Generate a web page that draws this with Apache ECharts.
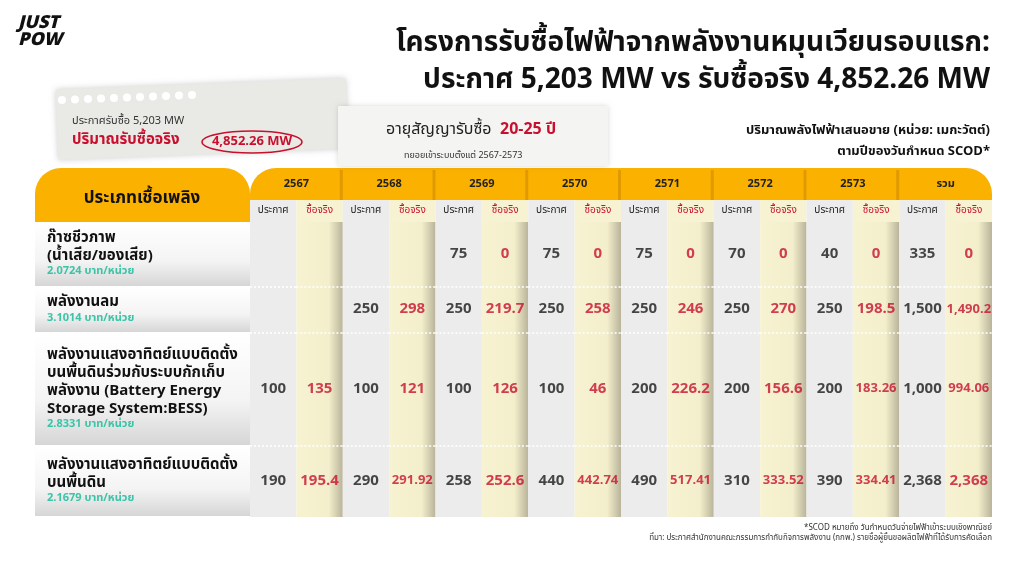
<!DOCTYPE html>
<html><head><meta charset="utf-8">
<script src="https://cdn.jsdelivr.net/npm/echarts@6/dist/echarts.min.js"></script>
<style>html,body{margin:0;background:#fff}#c{width:1024px;height:576px}</style>
</head><body><div id="c"></div>
<script>
const years = ['2567', '2568', '2569', '2570', '2571', '2572', '2573', 'รวม'];
const fuelNames = ['ก๊าซชีวภาพ\n(น้ำเสีย/ของเสีย)', 'พลังงานลม',
  'พลังงานแสงอาทิตย์แบบติดตั้ง\nบนพื้นดินร่วมกับระบบกักเก็บ\nพลังงาน (Battery Energy\nStorage System:BESS)',
  'พลังงานแสงอาทิตย์แบบติดตั้ง\nบนพื้นดิน'];
const prices = ['2.0724 บาท/หน่วย', '3.1014 บาท/หน่วย', '2.8331 บาท/หน่วย', '2.1679 บาท/หน่วย'];
const biogasAnnounced = [null, null, 75, 75, 75, 70, 40, 335];
const biogasActual = [null, null, 0, 0, 0, 0, 0, 0];
const windAnnounced = [null, 250, 250, 250, 250, 250, 250, 1500];
const windActual = [null, 298, 219.7, 258, 246, 270, 198.5, 1490.2];
const solarBessAnnounced = [100, 100, 100, 100, 200, 200, 200, 1000];
const solarBessActual = [135, 121, 126, 46, 226.2, 156.6, 183.26, 994.06];
const solarAnnounced = [190, 290, 258, 440, 490, 310, 390, 2368];
const solarActual = [195.4, 291.92, 252.6, 442.74, 517.41, 333.52, 334.41, 2368];

// layout: row edges in px below the header
const rowEdges = [0, 65, 111, 224, 295];
const F = "'Noto Sans Thai','Noto Sans','Noto Sans CJK SC',sans-serif";
const cols = [];
years.forEach(y => { cols.push(y + 'a'); cols.push(y + 'b'); });
const announced = [biogasAnnounced, windAnnounced, solarBessAnnounced, solarAnnounced];
const actual = [biogasActual, windActual, solarBessActual, solarActual];
const fmt = v => v.toLocaleString('en-US', { maximumFractionDigits: 2 });
const annPts = [], actPts = [], bg = [];
announced.forEach((row, r) => {
  const yc = (rowEdges[r] + rowEdges[r + 1]) / 2;
  row.forEach((v, i) => { if (v != null) annPts.push({ value: [cols[2 * i], yc], label: { formatter: fmt(v) } }); });
  actual[r].forEach((v, i) => {
    if (v != null) {
      const s = fmt(v);
      actPts.push({ value: [cols[2 * i + 1], yc], label: { formatter: s, fontSize: s.length > 5 ? 13 : 15 } });
    }
  });
});
cols.forEach((c, i) => bg.push([c, i]));

const chart = echarts.init(document.getElementById('c'));
const X0 = 250, X1 = 992, TOP = 222;
const colW = (X1 - X0) / 8;
const g = [];
// left header + rows
g.push({ type: 'rect', shape: { x: 35, y: 168, width: 215, height: 54, r: [26, 26, 0, 0] }, style: { fill: '#fbb100' } });
g.push({ type: 'text', x: 142, y: 200, style: { text: 'ประเภทเชื้อเพลิง', font: 'bold 17px ' + F, fill: '#111', align: 'center', verticalAlign: 'middle' } });
fuelNames.forEach((n, r) => {
  g.push({ type: 'rect', shape: { x: 35, y: TOP + rowEdges[r] + 1, width: 215, height: rowEdges[r + 1] - rowEdges[r] - 2 },
    style: { fill: new echarts.graphic.LinearGradient(0, 0, 0, 1, [{ offset: 0, color: '#fff' }, { offset: 0.6, color: '#f4f4f4' }, { offset: 1, color: '#d6d6d6' }]) } });
  const lines = n.split('\n').length;
  const h = lines * 18 + 14;
  const ty = TOP + (rowEdges[r] + rowEdges[r + 1]) / 2 - h / 2;
  g.push({ type: 'text', x: 47, y: ty, style: { text: n, font: 'bold 15px ' + F, lineHeight: 18, fill: '#111' } });
  g.push({ type: 'text', x: 47, y: ty + lines * 18 + 1, style: { text: prices[r], font: 'bold 11px ' + F, fill: '#3cc4a8' } });
});
// year header
g.push({ type: 'rect', shape: { x: X0, y: 168, width: X1 - X0, height: 32, r: [26, 26, 0, 0] }, style: { fill: '#fbb100' } });
years.forEach((y, i) => {
  const cx = X0 + colW * i;
  if (i > 0) g.push({ type: 'rect', shape: { x: cx - 3, y: 170, width: 3, height: 30 }, style: { fill: '#e09a00' } });
  g.push({ type: 'text', x: cx + colW / 2, y: 185, style: { text: y, font: 'bold 11px ' + F, fill: '#222', align: 'center', verticalAlign: 'middle' } });
  g.push({ type: 'rect', shape: { x: cx, y: 200, width: colW / 2, height: 22 }, style: { fill: '#ececec' } });
  g.push({ type: 'rect', shape: { x: cx + colW / 2, y: 200, width: colW / 2, height: 22 }, style: { fill: '#f7f3d2' } });
  g.push({ type: 'text', x: cx + colW / 4, y: 211, style: { text: 'ประกาศ', font: '10px ' + F, fill: '#222', align: 'center', verticalAlign: 'middle' } });
  g.push({ type: 'text', x: cx + colW * 3 / 4, y: 211, style: { text: 'ซื้อจริง', font: '10px ' + F, fill: '#c8102e', align: 'center', verticalAlign: 'middle' } });
});
// paper notes
g.push({ type: 'rect', rotation: 0.04, shape: { x: 52, y: 92, width: 290, height: 70 }, style: { fill: '#e9e9e6', shadowBlur: 6, shadowColor: 'rgba(0,0,0,0.2)' } });
for (let k = 0; k < 11; k++) g.push({ type: 'circle', shape: { cx: 62 + k * 13, cy: 100 - k * 0.5, r: 4 }, style: { fill: '#fff' } });
g.push({ type: 'text', x: 72, y: 116, style: { text: 'ประกาศรับซื้อ 5,203 MW', font: '11px ' + F, fill: '#333' } });
g.push({ type: 'text', x: 72, y: 133, style: { text: 'ปริมาณรับซื้อจริง', font: 'bold 15px ' + F, fill: '#c8102e' } });
g.push({ type: 'ellipse', shape: { cx: 252, cy: 142, rx: 50, ry: 11 }, style: { fill: 'none', stroke: '#c8102e', lineWidth: 1.5 } });
g.push({ type: 'text', x: 252, y: 142, style: { text: '4,852.26 MW', font: 'bold 13px ' + F, fill: '#c8102e', align: 'center', verticalAlign: 'middle' } });
g.push({ type: 'rect', shape: { x: 338, y: 106, width: 270, height: 60 }, style: { fill: '#f4f4f2', shadowBlur: 5, shadowColor: 'rgba(0,0,0,0.15)' } });
g.push({ type: 'text', x: 386, y: 123, style: { text: 'อายุสัญญารับซื้อ', font: '16px ' + F, fill: '#222' } });
g.push({ type: 'text', x: 500, y: 123, style: { text: '20-25 ปี', font: 'bold 16px ' + F, fill: '#c8102e' } });
g.push({ type: 'text', x: 404, y: 152, style: { text: 'ทยอยเข้าระบบตั้งแต่ 2567-2573', font: '9px ' + F, fill: '#333' } });
// logo + title
g.push({ type: 'text', x: 18, y: 16, style: { text: 'JUST\nPOW', font: 'italic 900 18px ' + F, lineHeight: 17, fill: '#111' } });
g.push({ type: 'text', x: 990, y: 45, style: { text: 'โครงการรับซื้อไฟฟ้าจากพลังงานหมุนเวียนรอบแรก:', font: 'bold 28px ' + F, fill: '#111', align: 'right', verticalAlign: 'middle' } });
g.push({ type: 'text', x: 990, y: 82, style: { text: 'ประกาศ 5,203 MW vs รับซื้อจริง 4,852.26 MW', font: 'bold 28px ' + F, fill: '#111', align: 'right', verticalAlign: 'middle' } });
g.push({ type: 'text', x: 990, y: 131, style: { text: 'ปริมาณพลังไฟฟ้าเสนอขาย (หน่วย: เมกะวัตต์)', font: 'bold 13px ' + F, fill: '#111', align: 'right', verticalAlign: 'middle' } });
g.push({ type: 'text', x: 990, y: 152, style: { text: 'ตามปีของวันกำหนด SCOD*', font: 'bold 13px ' + F, fill: '#111', align: 'right', verticalAlign: 'middle' } });
g.push({ type: 'text', x: 992, y: 523, style: { text: '*SCOD หมายถึง วันกำหนดวันจ่ายไฟฟ้าเข้าระบบเชิงพาณิชย์\nที่มา: ประกาศสำนักงานคณะกรรมการกำกับกิจการพลังงาน (กกพ.) รายชื่อผู้ยื่นขอผลิตไฟฟ้าที่ได้รับการคัดเลือก', font: '8px ' + F, lineHeight: 10, fill: '#333', align: 'right' } });

const valueLabel = color => ({ show: true, position: 'inside', fontFamily: F, fontWeight: 'bold', fontSize: 15, color });
chart.setOption({
  animation: false,
  grid: { left: X0, right: 1024 - X1, top: TOP, height: 295 },
  xAxis: { type: 'category', data: cols, show: false },
  yAxis: { type: 'value', min: 0, max: 295, inverse: true, show: false },
  graphic: g,
  series: [
    { type: 'custom', data: bg, z: 1, silent: true, renderItem: (params, api) => {
        const i = api.value(1);
        const p0 = api.coord([api.value(0), 0]);
        const p1 = api.coord([api.value(0), 295]);
        const w = api.size([1, 0])[0];
        const odd = i % 2 === 1;
        const children = [{ type: 'rect', shape: { x: p0[0] - w / 2, y: p0[1], width: w, height: p1[1] - p0[1] },
          style: { fill: odd ? new echarts.graphic.LinearGradient(0, 0, 1, 0, [{ offset: 0, color: '#f7f3d2' }, { offset: 0.7, color: '#f3efcc' }, { offset: 1, color: '#b9b49a' }]) : '#ececec' } }];
        rowEdges.slice(1, -1).forEach(e => {
          const py = api.coord([api.value(0), e])[1];
          children.push({ type: 'line', shape: { x1: p0[0] - w / 2, y1: py, x2: p0[0] + w / 2, y2: py }, style: { stroke: '#fff', lineWidth: 1.5, lineDash: [2, 2] } });
        });
        return { type: 'group', children };
      } },
    { type: 'scatter', data: annPts, symbolSize: 0, z: 5, label: valueLabel('#1a1a1a') },
    { type: 'scatter', data: actPts, symbolSize: 0, z: 5, label: valueLabel('#c8102e') }
  ]
});
</script></body></html>
